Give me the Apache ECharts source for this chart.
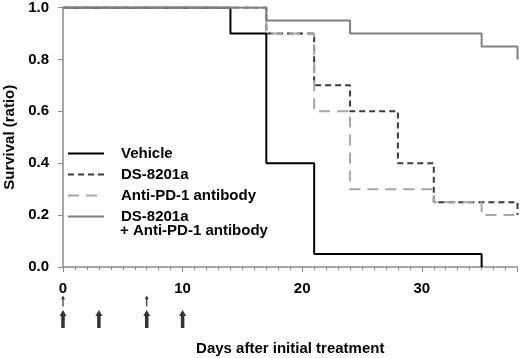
<!DOCTYPE html>
<html><head><meta charset="utf-8">
<script src="https://cdn.jsdelivr.net/npm/echarts@6/dist/echarts.min.js"></script>
<style>html,body{margin:0;padding:0;background:#fff}#c{width:520px;height:358px}</style>
</head><body><div id="c"></div>
<script>
// Kaplan-Meier step data: [day, survival ratio]
const vehicle = [[0,1],[14,0.9],[17,0.4],[21,0.05],[35,0]];
const ds8201a = [[0,1],[17,0.9],[21,0.7],[24,0.6],[28,0.4],[31,0.25],[38,0.2]];
const antiPD1 = [[0,1],[17,0.9],[21,0.6],[24,0.3],[31,0.25],[35,0.2],[38,0.2]];
const combo = [[0,1],[17,0.95],[24,0.9],[35,0.85],[38,0.8]];
const seriesNames = ['Vehicle','DS-8201a','Anti-PD-1 antibody','DS-8201a '];
const seriesLabels = ['Vehicle','DS-8201a','Anti-PD-1 antibody','DS-8201a'];
const comboSecondLine = '+ Anti-PD-1 antibody';
const thickArrowDays = [0,3,7,10];
const thinArrowDays = [0,7];
const xTitle = 'Days after initial treatment';
const yTitle = 'Survival (ratio)';

const FONT = '"Liberation Sans", Arial, sans-serif';
const axisGray = '#8a8a8a';
const chart = echarts.init(document.getElementById('c'), null, {renderer:'canvas'});

const mk = (name, data, color, type, z) => ({
  name, type:'line', step:'end', data, symbol:'none', z,
  lineStyle:{color, width:2, type}, itemStyle:{color}, animation:false, xAxisIndex:0, yAxisIndex:0
});

chart.setOption({
  animation:false,
  grid:[{left:63, right:2.5, top:7.5, bottom:91, outerBoundsMode:'none', containLabel:false},
        {left:63, right:2.5, top:292, height:38, outerBoundsMode:'none', containLabel:false}],
  xAxis:[{
    type:'value', min:0, max:38, interval:10, gridIndex:0,
    name:xTitle, nameLocation:'middle', nameGap:74,
    nameTextStyle:{fontFamily:FONT, fontWeight:'bold', fontSize:15, color:'#000'},
    axisLine:{lineStyle:{color:axisGray, width:1.5}},
    axisTick:{show:true, length:5, lineStyle:{color:axisGray}},
    minorTick:{show:true, splitNumber:10, length:3, lineStyle:{color:axisGray}},
    splitLine:{show:false},
    axisLabel:{fontFamily:FONT, fontWeight:'bold', fontSize:15, color:'#000', margin:14,
      formatter: v => v===38 ? '' : String(v)}
  },{
    type:'value', min:0, max:38, gridIndex:1, show:false
  }],
  yAxis:[{
    type:'value', min:0, max:1, interval:0.2, gridIndex:0,
    name:yTitle, nameLocation:'middle', nameGap:40, nameRotate:90,
    nameTextStyle:{fontFamily:FONT, fontWeight:'bold', fontSize:15, color:'#000'},
    axisLine:{show:true, lineStyle:{color:axisGray, width:1.5}},
    axisTick:{show:true, length:5, lineStyle:{color:axisGray}},
    splitLine:{show:false},
    axisLabel:{fontFamily:FONT, fontWeight:'bold', fontSize:15, color:'#000', margin:14,
      formatter: v => v.toFixed(1)}
  },{
    type:'value', min:0, max:1, gridIndex:1, show:false
  }],
  legend:{
    orient:'vertical', left:67, top:146, padding:0, itemWidth:36, itemHeight:14, itemGap:6,
    itemStyle:{opacity:0},
    textStyle:{fontFamily:FONT, fontWeight:'bold', fontSize:15, color:'#000', padding:[0,0,0,12]},
    formatter: n => seriesLabels[seriesNames.indexOf(n)],
    data:seriesNames.map(n=>({name:n}))
  },
  graphic:[{type:'text', left:120, top:223,
    style:{text:comboSecondLine, font:'bold 15px "Liberation Sans", Arial, sans-serif', fill:'#000'}}],
  series:[
    mk(seriesNames[0], vehicle, '#000000', 'solid', 2),
    mk(seriesNames[1], ds8201a, '#3a3a3a', [6,4], 3),
    mk(seriesNames[2], antiPD1, '#a6a6a6', [11,7], 3),
    mk(seriesNames[3], combo, '#808080', 'solid', 4),
    {type:'scatter', xAxisIndex:1, yAxisIndex:1, silent:true,
     data: thickArrowDays.map(d=>[d,0.29]),
     symbol:'path://M4,0L8,6L6,6L6,18L2,18L2,6L0,6Z', symbolSize:[7,18],
     itemStyle:{color:'#000'}},
    {type:'scatter', xAxisIndex:1, yAxisIndex:1, silent:true,
     data: thinArrowDays.map(d=>[d,0.76]),
     symbol:'path://M2,0L4,4L2.6,4L2.6,12L1.4,12L1.4,4L0,4Z', symbolSize:[4,11],
     itemStyle:{color:'#000'}}
  ]
});
</script></body></html>
